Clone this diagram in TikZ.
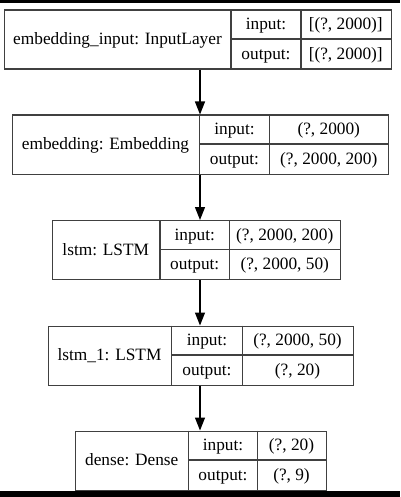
\documentclass[tikz,border=0pt]{standalone}
\usepackage{fontspec}
\setmainfont{Liberation Serif}
\usetikzlibrary{arrows.meta}
\tikzset{
  boxline/.style={draw=black!75, line width=1.3pt},
  layerbox/.style={boxline, rectangle, inner sep=0pt, anchor=north west},
  txt/.style={font=\fontsize{17.3}{20}\selectfont, inner sep=0pt, anchor=base},
  flow/.style={draw=black, line width=1.4pt, -{Triangle[length=13pt,width=10pt]}}
}
% #1 name, #2 left, #3 split1, #4 split2, #5 right, #6 top, #7 label, #8 input, #9 output
\newcommand\kerasLayer[9]{%
  \node[layerbox, minimum width={(#5-#2)*1pt}, minimum height=59pt] (#1) at (#2,#6) {};
  \draw[boxline] (#3,#6) -- (#3,{#6+59});
  \draw[boxline] (#4,#6) -- (#4,{#6+59});
  \draw[boxline] (#3,{#6+29.5}) -- (#5,{#6+29.5});
  \node[txt] (#1lab) at ({(#2+#3)/2},{#6+29.5+5.5}) {#7};
  \node[txt] (#1inl) at ({(#3+#4)/2},{#6+14.75+5.5}) {input:};
  \node[txt] (#1outl) at ({(#3+#4)/2},{#6+44.25+5.5}) {output:};
  \node[txt] (#1inv) at ({(#4+#5)/2},{#6+14.75+5.5}) {#8};
  \node[txt] (#1outv) at ({(#4+#5)/2},{#6+44.25+5.5}) {#9};
}
\begin{document}
\begin{tikzpicture}[x=1pt,y=-1pt]
\useasboundingbox (0,0) rectangle (400,497);
\fill[black] (0,0) rectangle (400,3);
\fill[black] (0,491) rectangle (400,497);
\coordinate (ax) at (200,0);
\kerasLayer{L1}{4}{231}{301}{390.5}{9.5}{embedding\_input: InputLayer}{[(?, 2000)]}{[(?, 2000)]}
\kerasLayer{L2}{11.5}{199.5}{269.5}{388}{114.5}{embedding: Embedding}{(?, 2000)}{(?, 2000, 200)}
\kerasLayer{L3}{51.5}{160}{229.5}{340}{220}{lstm: LSTM}{(?, 2000, 200)}{(?, 2000, 50)}
\kerasLayer{L4}{47.5}{171.5}{242.5}{352.5}{325.5}{lstm\_1: LSTM}{(?, 2000, 50)}{(?, 20)}
\kerasLayer{L5}{75}{188.5}{257.5}{325.5}{430.5}{dense: Dense}{(?, 20)}{(?, 9)}
\draw[flow] (L1.south -| ax) -- (L2.north -| ax);
\draw[flow] (L2.south -| ax) -- (L3.north -| ax);
\draw[flow] (L3.south -| ax) -- (L4.north -| ax);
\draw[flow] (L4.south -| ax) -- (L5.north -| ax);
\end{tikzpicture}
\end{document}
